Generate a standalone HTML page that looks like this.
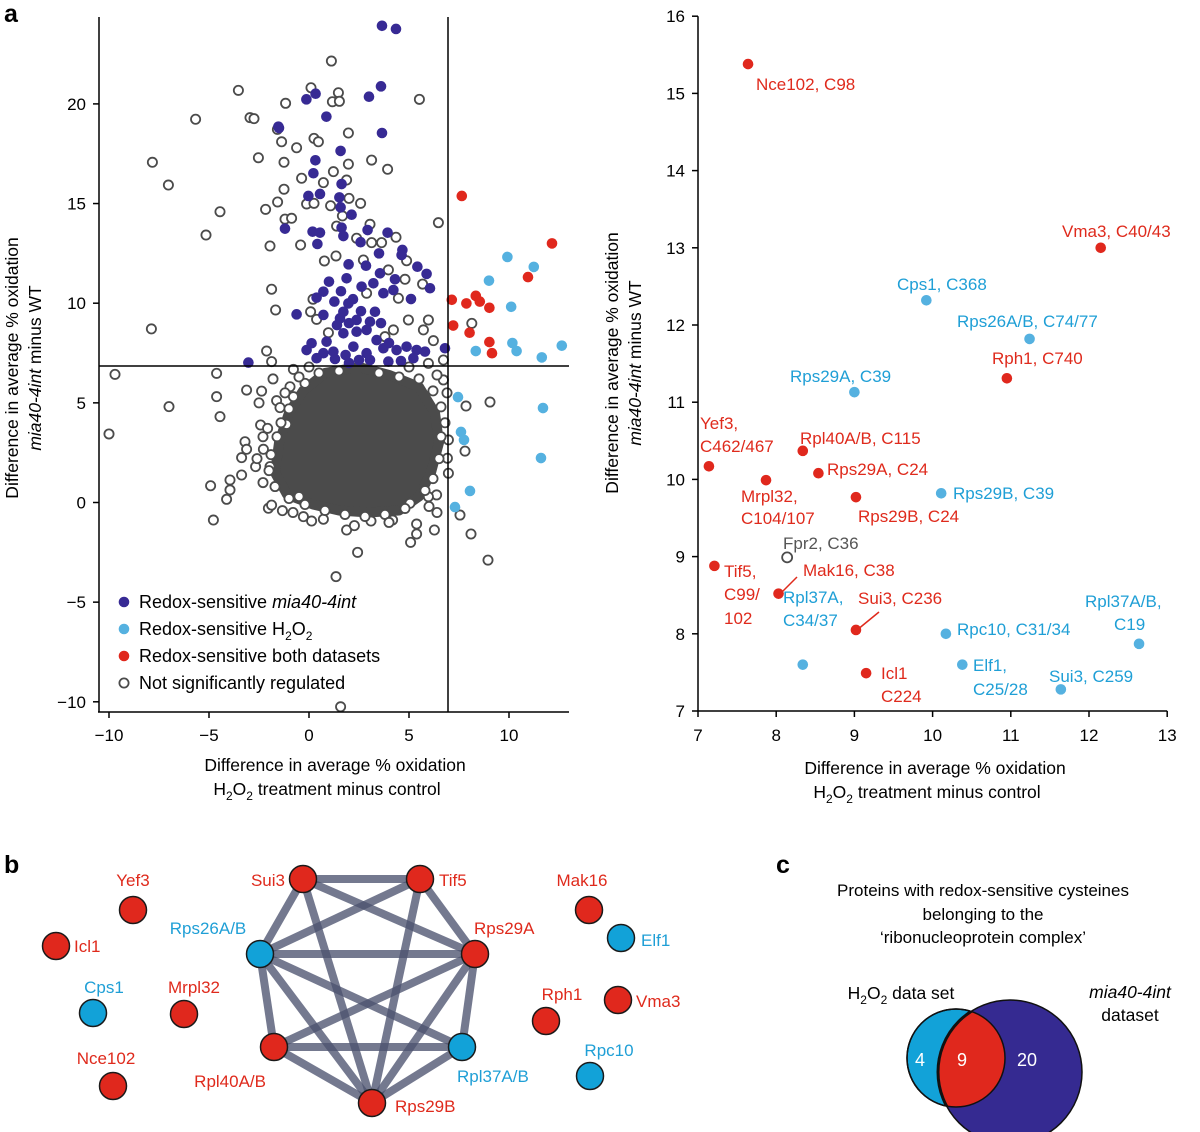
<!DOCTYPE html>
<html><head><meta charset="utf-8"><style>
html,body{margin:0;padding:0;background:#fff;}
svg{display:block;font-family:"Liberation Sans",Arial,sans-serif;}
</style></head><body>
<svg id="fig" width="1200" height="1132" viewBox="0 0 1200 1132" xmlns="http://www.w3.org/2000/svg">
<g id="panelA"></g>
<g id="panelA2"></g>
<g id="panelB"></g>
<g id="panelC"></g>
</svg>
<script>
// ---------- DATA ----------
const leftXTicks = [-10, -5, 0, 5, 10];
const leftYTicks = [-10, -5, 0, 5, 10, 15, 20];
const rightXTicks = [7, 8, 9, 10, 11, 12, 13];
const rightYTicks = [7, 8, 9, 10, 11, 12, 13, 14, 15, 16];
const thresholdX = 6.95;
const thresholdY = 6.85;

const redPts = [[7.64,15.38],[12.15,13.0],[10.95,11.31],[7.14,10.17],[7.87,9.99],[8.34,10.37],[8.54,10.08],[9.02,9.77],[7.21,8.88],[8.03,8.52],[9.02,8.05],[9.15,7.49]];
const bluePts = [[9.92,12.32],[11.24,11.82],[9.0,11.13],[10.11,9.82],[10.17,8.0],[12.64,7.87],[8.34,7.6],[10.38,7.6],[11.64,7.28],
 [7.45,5.29],[11.7,4.74],[7.6,3.54],[7.75,3.14],[11.6,2.23],[8.05,0.58],[7.3,-0.23]];
const purplePts = [[3.65,23.92],[4.35,23.76],[3.6,20.88],[3.0,20.36],[-0.13,20.23],[0.33,20.51],[0.87,19.36],[-1.53,18.86],[-1.5,18.79],[3.65,18.54],
 [1.58,17.64],[0.32,17.17],[0.22,16.52],[1.63,15.98],[-0.03,15.38],[0.55,15.48],[1.52,15.31],[1.58,14.81],[2.13,14.44],[-1.2,13.74],
 [0.18,13.59],[0.55,13.54],[0.42,12.97],[1.63,13.79],[1.72,13.37],[2.93,13.67],[3.93,13.54],[2.58,13.06],[3.5,12.5],[4.67,12.67],
 [4.63,12.42],[5.42,11.83],[5.88,11.47],[6.05,10.75],[5.1,10.21],[1.98,11.95],[2.85,11.88],[3.55,11.5],[4.3,11.2],[1.0,11.08],
 [1.88,11.25],[2.63,10.83],[3.22,11.0],[0.72,10.58],[0.38,10.28],[1.27,10.08],[1.97,9.99],[3.72,10.5],[4.22,10.66],[-0.62,9.44],
 [0.72,9.41],[1.72,9.57],[3.3,9.57],[2.38,9.16],[3.05,9.07],[1.55,9.24],[1.72,8.49],[2.38,8.57],[2.88,8.66],[3.38,8.15],
 [0.88,8.07],[-0.12,7.65],[0.13,7.99],[0.72,7.49],[1.22,7.57],[2.22,7.82],[2.88,7.49],[3.72,7.74],[4.38,7.65],[4.88,7.82],
 [5.38,7.65],[5.8,7.57],[6.8,7.74],[5.22,7.24],[3.97,7.07],[3.05,7.15],[0.38,7.24],[-3.03,7.02],[1.83,7.4],[2.5,7.15],
 [1.6,10.6],[2.2,10.2],[2.0,9.0],[1.4,8.9],[2.6,9.6],[3.6,9.0],[4.0,8.0],[1.3,7.2],[2.0,7.0],[4.6,7.1]];
const grayPts = [[8.14,8.99],[7.85,4.84],[9.05,5.04],[7.8,2.58],[7.55,-0.63],[8.1,-1.58],[8.95,-2.89],
 [1.12,22.15],[-3.53,20.68],[0.1,20.81],[-1.17,20.03],[1.17,20.11],[1.47,20.56],[1.52,20.13],[5.52,20.23],[-5.67,19.23],[-2.95,19.31],[-2.75,19.26],
 [-1.58,18.72],[-1.37,18.1],[-0.62,17.8],[0.25,18.27],[0.47,18.1],[1.97,18.54],[-7.83,17.07],[-7.03,15.93],[-2.53,17.3],[-1.25,17.07],
 [1.97,16.98],[3.13,17.18],[3.93,16.72],[1.22,16.6],[0.72,16.05],[-0.37,16.27],[1.88,16.18],[-1.25,15.72],[-1.57,15.08],[-2.17,14.71],
 [-4.45,14.59],[-0.12,14.98],[0.25,15.01],[1.08,14.89],[2.0,15.26],[2.58,15.01],[6.47,14.04],[-5.15,13.42],[-1.2,14.22],[-0.87,14.26],
 [1.67,14.38],[-1.95,12.87],[-0.42,12.92],[1.38,13.87],[3.05,13.96],[2.38,13.26],[3.13,13.04],[3.63,13.04],[4.35,13.31],[0.77,12.12],
 [1.35,12.37],[2.72,12.17],[4.88,12.13],[3.97,11.67],[4.8,11.2],[5.68,10.96],[-1.87,10.7],[-1.67,9.66],[-7.88,8.71],[2.88,10.5],
 [4.47,10.25],[0.2,10.2],[0.08,9.57],[0.38,9.19],[4.97,9.16],[5.97,9.16],[5.72,8.66],[4.22,8.66],[0.97,8.52],[3.8,8.32],
 [6.22,8.12],[-2.12,7.6],[-1.87,7.07],[-9.7,6.43],[-4.62,6.48],[6.72,7.15],[-0.78,6.68],[5.97,6.98],
 [-7.0,4.81],[-10.0,3.44],[-4.62,5.31],[-4.45,4.31],[-3.12,5.64],[-2.37,5.59],[-1.62,5.11],[-1.45,4.76],[-2.42,3.89],[-2.07,3.72],
 [-1.12,3.92],[-3.2,3.05],[-3.12,2.67],[-2.28,2.67],[-3.37,2.25],[-2.67,1.8],[-1.95,1.8],[-3.37,1.38],[-3.95,1.13],[-3.95,0.63],
 [-4.92,0.84],[-4.12,0.16],[-4.78,-0.88],[-2.03,-0.29],[-1.33,-0.41],[-1.87,-0.13],[-0.28,-0.71],[0.13,-0.93],[0.72,-0.84],[1.88,-1.38],
 [2.27,-1.16],[3.1,-0.93],[4.18,-0.88],[5.38,-1.08],[5.38,-1.58],[5.08,-2.0],[6.27,-1.38],[2.43,-2.5],[1.35,-3.72],[1.58,-10.25],
 [6.72,6.15],[6.97,3.14],[6.92,2.22],[6.97,1.47],[6.38,0.38],[5.97,0.29],[5.05,-0.04],[-0.95,5.81],[-0.2,5.98],[-0.78,5.31],
 [-1.2,5.5],[-0.5,6.3],[0.5,6.5],[1.5,6.6],[3.5,6.5],[4.5,6.3],[5.5,6.2],[6.2,5.6],[6.6,4.8],[6.8,4.0],
 [6.6,3.3],[6.5,2.2],[6.2,1.2],[5.8,0.6],[4.8,-0.3],[3.8,-0.6],[2.8,-0.7],[1.8,-0.6],[0.8,-0.4],[-0.2,-0.1],
 [-1.0,0.2],[-1.7,0.8],[-2.0,1.6],[-1.9,2.4],[-1.6,3.3],[-1.4,4.0],[-1.0,4.7],[-2.3,3.3],[-2.6,2.2],[-2.3,1.0],
 [6.9,5.5],[6.4,6.4],[5.0,6.8],[0.0,6.8],[-1.8,6.2],[-2.5,5.0],[-0.8,-0.5],[4.0,-1.0],[6.4,-0.5],[-0.5,0.3],[6.0,-0.2]];
// outline of the dense, fully overlapping core of non-significant points
const coreOutline = [[-0.3,5.6],[0.8,6.5],[2.5,6.8],[4.0,6.4],[5.5,5.8],[6.3,4.5],[6.5,3.0],[6.1,1.5],[5.5,0.3],[4.5,-0.4],[3.0,-0.5],[1.5,-0.4],[0.2,-0.1],[-1.1,0.4],[-1.7,1.5],[-1.5,3.0],[-1.0,4.5]];

// network
const netNames = ["Sui3","Tif5","Rps26A/B","Rps29A","Rpl40A/B","Rpl37A/B","Rps29B"];
const netEdges = [[0,1],[0,2],[0,3],[0,6],[1,2],[1,3],[1,6],[2,3],[2,4],[2,5],[2,6],[3,4],[3,5],[3,6],[4,5],[4,6],[5,6]];
const vennCounts = [4, 9, 20];

// ---------- HELPERS ----------
const NS = "http://www.w3.org/2000/svg";
function mk(tag, attrs, parent){ const e=document.createElementNS(NS,tag); for(const k in attrs) e.setAttribute(k,attrs[k]); parent.appendChild(e); return e; }
const C = {purple:"#372a94", blue:"#55b1e0", red:"#e0281d", gray:"#4b4b4b", tblue:"#1f9fd6", tred:"#df2a1c"};

// ---------- PANEL A LEFT ----------
const A = document.getElementById("panelA");
const lx = v => 309 + 20*v;
const ly = v => 502.5 - 19.93*v;
{
  const t = mk("text",{x:4,y:22,"font-size":25,"font-weight":"bold"},A); t.textContent="a";
   
  // core blob
  const pts = coreOutline.map(p=>lx(p[0])+","+ly(p[1])).join(" ");
  const blob = mk("polygon",{points:pts,fill:C.gray,stroke:C.gray,"stroke-width":10,"stroke-linejoin":"round"},A);
   
  const gG = mk("g",{},A);
   
  grayPts.forEach(p=>{ const c=mk("circle",{cx:lx(p[0]),cy:ly(p[1]),r:4.6,fill:"#fff",stroke:C.gray,"stroke-width":1.8},gG);
      });
  const gP = mk("g",{},A);
   
  purplePts.forEach(p=>{ const c=mk("circle",{cx:lx(p[0]),cy:ly(p[1]),r:5.3,fill:C.purple},gP);
      });
  const gB = mk("g",{},A);
   
  bluePts.forEach(p=>{ const c=mk("circle",{cx:lx(p[0]),cy:ly(p[1]),r:5.3,fill:C.blue},gB);
      });
  const gR = mk("g",{},A);
   
  redPts.forEach(p=>{ const c=mk("circle",{cx:lx(p[0]),cy:ly(p[1]),r:5.3,fill:C.red},gR);
      });
  // axes
  const ax = mk("g",{stroke:"#000","stroke-width":1.5,fill:"none"},A);
   
  mk("line",{x1:99,y1:17,x2:99,y2:712},ax);
  mk("line",{x1:98,y1:712,x2:lx(13),y2:712},ax);
  const th1 = mk("line",{x1:lx(thresholdX),y1:17,x2:lx(thresholdX),y2:712},ax);
   
  const th2 = mk("line",{x1:99,y1:ly(thresholdY),x2:lx(13),y2:ly(thresholdY)},ax);
   
  leftXTicks.forEach(v=>{ mk("line",{x1:lx(v),y1:712,x2:lx(v),y2:718},ax);
    const t=mk("text",{x:lx(v),y:741,"font-size":17,"text-anchor":"middle"},A); t.textContent=(v<0?"\u2212"+(-v):v);
      });
  leftYTicks.forEach(v=>{ mk("line",{x1:93,y1:ly(v),x2:99,y2:ly(v)},ax);
    const t=mk("text",{x:86,y:ly(v)+6,"font-size":17,"text-anchor":"end"},A); t.textContent=(v<0?"\u2212"+(-v):v);
      });
}
</script>
<svg style="position:absolute;left:0;top:0" width="1200" height="1132" viewBox="0 0 1200 1132" font-family="Liberation Sans, Arial, sans-serif">
 <!-- left axis titles -->
 <text x="335" y="771" font-size="17.5" text-anchor="middle">Difference in average % oxidation</text>
 <text x="327" y="795" font-size="17.5" text-anchor="middle">H<tspan font-size="12" dy="5">2</tspan><tspan dy="-5">O</tspan><tspan font-size="12" dy="5">2</tspan><tspan dy="-5"> treatment minus control</tspan></text>
 <text transform="translate(18,368) rotate(-90)" font-size="17.5" text-anchor="middle">Difference in average % oxidation</text>
 <text transform="translate(41,368) rotate(-90)" font-size="17.5" text-anchor="middle"><tspan font-style="italic">mia40-4int</tspan> minus WT</text>
 <!-- legend -->
 <g font-size="18">
  <circle cx="124" cy="602" r="5.3" fill="#372a94"/>
  <text x="139" y="608">Redox-sensitive <tspan font-style="italic">mia40-4int</tspan></text>
  <circle cx="124" cy="629" r="5.3" fill="#55b1e0"/>
  <text x="139" y="635">Redox-sensitive H<tspan font-size="12" dy="5">2</tspan><tspan dy="-5">O</tspan><tspan font-size="12" dy="5">2</tspan></text>
  <circle cx="124" cy="656" r="5.3" fill="#e0281d"/>
  <text x="139" y="662">Redox-sensitive both datasets</text>
  <circle cx="124" cy="683" r="4.6" fill="#fff" stroke="#4b4b4b" stroke-width="1.8"/>
  <text x="139" y="689">Not significantly regulated</text>
 </g>
 <!-- right axis titles -->
 <text x="935" y="774" font-size="17.5" text-anchor="middle">Difference in average % oxidation</text>
 <text x="927" y="798" font-size="17.5" text-anchor="middle">H<tspan font-size="12" dy="5">2</tspan><tspan dy="-5">O</tspan><tspan font-size="12" dy="5">2</tspan><tspan dy="-5"> treatment minus control</tspan></text>
 <text transform="translate(618,363) rotate(-90)" font-size="17.5" text-anchor="middle">Difference in average % oxidation</text>
 <text transform="translate(641,363) rotate(-90)" font-size="17.5" text-anchor="middle"><tspan font-style="italic">mia40-4int</tspan> minus WT</text>
 <!-- right point labels -->
 <g font-size="17">
  <g fill="#df2a1c">
   <text x="756" y="90">Nce102, C98</text>
   <text x="1062" y="237">Vma3, C40/43</text>
   <text x="992" y="364">Rph1, C740</text>
   <text x="700" y="429">Yef3,</text>
   <text x="700" y="452">C462/467</text>
   <text x="800" y="444">Rpl40A/B, C115</text>
   <text x="827" y="475">Rps29A, C24</text>
   <text x="741" y="502">Mrpl32,</text>
   <text x="741" y="524">C104/107</text>
   <text x="858" y="522">Rps29B, C24</text>
   <text x="724" y="577">Tif5,</text>
   <text x="724" y="600">C99/</text>
   <text x="724" y="624">102</text>
   <text x="803" y="576">Mak16, C38</text>
   <text x="858" y="604">Sui3, C236</text>
   <text x="881" y="679">Icl1</text>
   <text x="881" y="702">C224</text>
  </g>
  <g fill="#1f9fd6">
   <text x="897" y="290">Cps1, C368</text>
   <text x="957" y="327">Rps26A/B, C74/77</text>
   <text x="790" y="382">Rps29A, C39</text>
   <text x="953" y="499">Rps29B, C39</text>
   <text x="957" y="635">Rpc10, C31/34</text>
   <text x="1085" y="607">Rpl37A/B,</text>
   <text x="1114" y="630">C19</text>
   <text x="783" y="603">Rpl37A,</text>
   <text x="783" y="626">C34/37</text>
   <text x="973" y="671">Elf1,</text>
   <text x="973" y="695">C25/28</text>
   <text x="1049" y="682">Sui3, C259</text>
  </g>
  <text x="783" y="549" fill="#555">Fpr2, C36</text>
  <line x1="780" y1="594" x2="797" y2="577" stroke="#df2a1c" stroke-width="1.5"/>
  <line x1="857" y1="630" x2="879" y2="612" stroke="#df2a1c" stroke-width="1.5"/>
 </g>
 <!-- panel b labels -->
 <text x="4" y="873" font-size="25" font-weight="bold">b</text>
 <g font-size="17">
  <g fill="#df2a1c">
   <text x="133" y="886" text-anchor="middle">Yef3</text>
   <text x="74" y="952">Icl1</text>
   <text x="194" y="993" text-anchor="middle">Mrpl32</text>
   <text x="106" y="1064" text-anchor="middle">Nce102</text>
   <text x="285" y="886" text-anchor="end">Sui3</text>
   <text x="439" y="886">Tif5</text>
   <text x="474" y="934">Rps29A</text>
   <text x="266" y="1087" text-anchor="end">Rpl40A/B</text>
   <text x="395" y="1112">Rps29B</text>
   <text x="582" y="886" text-anchor="middle">Mak16</text>
   <text x="562" y="1000" text-anchor="middle">Rph1</text>
   <text x="636" y="1007">Vma3</text>
  </g>
  <g fill="#1f9fd6">
   <text x="104" y="993" text-anchor="middle">Cps1</text>
   <text x="208" y="934" text-anchor="middle">Rps26A/B</text>
   <text x="457" y="1082">Rpl37A/B</text>
   <text x="641" y="946">Elf1</text>
   <text x="609" y="1056" text-anchor="middle">Rpc10</text>
  </g>
 </g>
 <!-- panel c -->
 <text x="776" y="873" font-size="25" font-weight="bold">c</text>
 <g font-size="17" text-anchor="middle">
  <text x="983" y="896">Proteins with redox-sensitive cysteines</text>
  <text x="983" y="920">belonging to the</text>
  <text x="983" y="943">‘ribonucleoprotein complex’</text>
 </g>
 <g id="vennLayer"></g>
 <text x="901" y="999" font-size="17.5" text-anchor="middle">H<tspan font-size="12" dy="5">2</tspan><tspan dy="-5">O</tspan><tspan font-size="12" dy="5">2</tspan><tspan dy="-5"> data set</tspan></text>
 <text x="1130" y="998" font-size="17.5" font-style="italic" text-anchor="middle">mia40-4int</text>
 <text x="1130" y="1021" font-size="17.5" text-anchor="middle">dataset</text>
</svg>
<script>
// ---------- PANEL A RIGHT (zoom of upper-right quadrant) ----------
const A2 = document.getElementById("panelA2");
const rx = v => 698 + 78.2*(v-7);
const ry = v => 711 - 77.2*(v-7);
{
  const inR = p => p[0]>=7 && p[0]<=13 && p[1]>=7 && p[1]<=16;
  const ax = mk("g",{stroke:"#000","stroke-width":1.5,fill:"none"},A2);
   
  mk("line",{x1:rx(7),y1:ry(16),x2:rx(7),y2:ry(7)},ax);
  mk("line",{x1:rx(7),y1:ry(7),x2:rx(13),y2:ry(7)},ax);
  rightXTicks.forEach(v=>{ mk("line",{x1:rx(v),y1:ry(7),x2:rx(v),y2:ry(7)+6},ax);
    const t=mk("text",{x:rx(v),y:741,"font-size":17,"text-anchor":"middle"},A2); t.textContent=v;
      });
  rightYTicks.forEach(v=>{ mk("line",{x1:rx(7)-6,y1:ry(v),x2:rx(7),y2:ry(v)},ax);
    const t=mk("text",{x:rx(7)-13,y:ry(v)+6,"font-size":17,"text-anchor":"end"},A2); t.textContent=v;
      });
  grayPts.filter(inR).forEach(p=>{ const c=mk("circle",{cx:rx(p[0]),cy:ry(p[1]),r:5,fill:"#fff",stroke:C.gray,"stroke-width":1.8},A2);
      });
  bluePts.filter(inR).forEach(p=>{ const c=mk("circle",{cx:rx(p[0]),cy:ry(p[1]),r:5.3,fill:C.blue},A2);
      });
  redPts.filter(inR).forEach(p=>{ const c=mk("circle",{cx:rx(p[0]),cy:ry(p[1]),r:5.3,fill:C.red},A2);
      });
}
// ---------- PANEL B ----------
const B = document.getElementById("panelB");
{
  const nodePos = [[303,879],[420,879],[260,954],[475,954],[274,1047],[462,1047],[372,1103]];
  const nodeCol = ["r","r","b","r","r","b","r"];
  const eg = mk("g",{stroke:"#4d5370","stroke-opacity":0.78,"stroke-width":8},B);
   
  netEdges.forEach(e=>{ const l=mk("line",{x1:nodePos[e[0]][0],y1:nodePos[e[0]][1],x2:nodePos[e[1]][0],y2:nodePos[e[1]][1]},eg);
      });
  const loose = [[133,910,"r"],[56,946,"r"],[93,1013,"b"],[184,1014,"r"],[113,1086,"r"],[589,910,"r"],[621,938,"b"],[546,1021,"r"],[618,1000,"r"],[590,1076,"b"]];
  const all = nodePos.map((p,i)=>[p[0],p[1],nodeCol[i]]).concat(loose);
  all.forEach(n=>{ const c=mk("circle",{cx:n[0],cy:n[1],r:13.5,fill:n[2]==="r"?"#e0281d":"#12a2d8",stroke:"#1a1a1a","stroke-width":1.5},B);
      });
}
// ---------- PANEL C ----------
{
  const V = document.getElementById("vennLayer");
  const bc=[956,1058,49], pc=[1010,1072,72];
  const b = mk("circle",{cx:bc[0],cy:bc[1],r:bc[2],fill:"#12a2d8",stroke:"#111","stroke-width":1.5},V);
   
  const p = mk("circle",{cx:pc[0],cy:pc[1],r:pc[2],fill:"#352a91",stroke:"#111","stroke-width":1.5},V);
   
  const defs = mk("defs",{},V);
  const cp = mk("clipPath",{id:"clipB"},defs);
  mk("circle",{cx:bc[0],cy:bc[1],r:bc[2]},cp);
  const o = mk("circle",{cx:pc[0],cy:pc[1],r:pc[2],fill:"#e0281d",stroke:"#111","stroke-width":3,"clip-path":"url(#clipB)"},V);
   
  const bo = mk("circle",{cx:bc[0],cy:bc[1],r:bc[2],fill:"none",stroke:"#111","stroke-width":1.5},V);
  const xs=[920,962,1027];
  vennCounts.forEach((n,i)=>{ const t=mk("text",{x:xs[i],y:1066,"font-size":18,fill:"#fff","text-anchor":"middle"},V); t.textContent=n;
      });
}
</script>
</body></html>
